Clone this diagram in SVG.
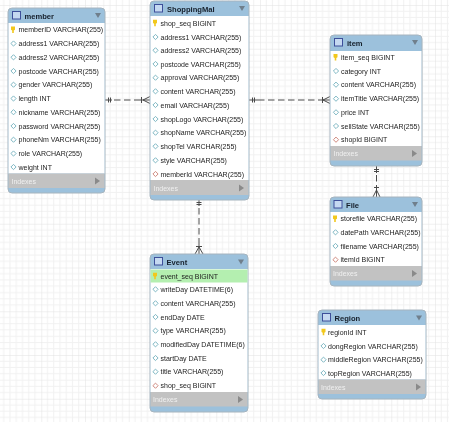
<svg xmlns="http://www.w3.org/2000/svg" width="449" height="422" viewBox="0 0 449 422">
<style>
.t{fill:#9cc1dc;stroke:#a6b4be;stroke-width:1}
.n{font:bold 7.6px "Liberation Sans",sans-serif;fill:#16202c}
.r{font:7px "Liberation Sans",sans-serif;fill:#1c1c1c}
.x{font:7px "Liberation Sans",sans-serif;fill:#f0f0f0}
.g{fill:#c2c2c2}
.a{fill:#6f7f8c}
.b{fill:#8a8a8a}
.ic{fill:#c5d9f1;stroke:#3c4f9a;stroke-width:1}
.c{fill:none;stroke:#4a4a4a;stroke-width:1}
.d{stroke-dasharray:6.500 3.500}
.k{fill:#f2c81e}
.o{fill:#fff;stroke:#7fb8c4;stroke-width:1}
.f{fill:#fff;stroke:#d08a80;stroke-width:1}
</style>
<defs>
<pattern id="gr" x="41.250" y="5" width="43.750" height="43.750" patternUnits="userSpaceOnUse"><path d="M6.250 0V43.750M12.500 0V43.750M18.750 0V43.750M25 0V43.750M31.250 0V43.750M37.500 0V43.750M0 6.250H43.750M0 12.500H43.750M0 18.750H43.750M0 25H43.750M0 31.250H43.750M0 37.500H43.750" fill="none" stroke="#f1f1f1" stroke-width="1"/><path d="M43.750 0H0V43.750" fill="none" stroke="#e2e2e2" stroke-width="1"/></pattern>
<g id="key"><path class="k" d="M-2-3.200h4v3.200l-1.200 .8v2.400h-1.600v-2.400l-1.200-.8z"/></g>
<path id="col" class="o" d="M0-2.600 2.600 0 0 2.600-2.600 0z"/>
<path id="fk" class="f" d="M0-2.600 2.600 0 0 2.600-2.600 0z"/>
<filter id="s" x="-5%" y="-5%" width="110%" height="110%"><feGaussianBlur stdDeviation="0.3"/></filter>
</defs>
<rect width="449" height="422" fill="#fff"/>
<rect width="449" height="422" fill="url(#gr)"/>
<g filter="url(#s)">
<g id="connectors">
<path class="c d" d="M114 100H140"/>
<path class="c" d="M105 100H112M108.500 97.500v5M110.500 97.500v5M140 100H150M141.500 97v6M150 96.500l-7 3.500 7 3.500"/>
<path class="c d" d="M258 100H320"/>
<path class="c" d="M249 100H258M252.500 97.500v5M254.500 97.500v5M320 100H330M322.500 97v6M330 96.500l-7 3.500 7 3.500"/>
<path class="c d" d="M376.500 175V186"/>
<path class="c" d="M376.500 166V173M374 169.500h5M374 171.500h5M376.500 186V197M374 187.500h5M373 197l3.500-7 3.500 7"/>
<path class="c d" d="M199 208V244"/>
<path class="c" d="M199 200V206M196.500 202.500h5M196.500 204.500h5M199 244V254M196 246.500h6M195 254l4-7 4 7"/>
</g>
<g id="member">
<rect class="t" x="8" y="8" width="97" height="185" rx="4"/>
<rect x="8.500" y="23" width="96" height="150.500" fill="#fff"/><rect class="g" x="8.500" y="173.500" width="96" height="14.500"/>
<rect class="ic" x="12.500" y="11.500" width="8" height="7.500"/><text class="n" x="24.500" y="18.500">member</text><path class="a" d="M95 13h6l-3 5z"/>
<use href="#key" x="13" y="29.700"/><text class="r" x="18.500" y="32.200">memberID VARCHAR(255)</text>
<use href="#col" x="13.500" y="43.500"/><text class="r" x="18.500" y="46">address1 VARCHAR(255)</text>
<use href="#col" x="13.500" y="57.300"/><text class="r" x="18.500" y="59.800">address2 VARCHAR(255)</text>
<use href="#col" x="13.500" y="71"/><text class="r" x="18.500" y="73.500">postcode VARCHAR(255)</text>
<use href="#col" x="13.500" y="84.700"/><text class="r" x="18.500" y="87.200">gender VARCHAR(255)</text>
<use href="#col" x="13.500" y="98.500"/><text class="r" x="18.500" y="101">length INT</text>
<use href="#col" x="13.500" y="112.200"/><text class="r" x="18.500" y="114.700">nickname VARCHAR(255)</text>
<use href="#col" x="13.500" y="126"/><text class="r" x="18.500" y="128.500">password VARCHAR(255)</text>
<use href="#col" x="13.500" y="139.700"/><text class="r" x="18.500" y="142.200">phoneNm VARCHAR(255)</text>
<use href="#col" x="13.500" y="153.500"/><text class="r" x="18.500" y="156">role VARCHAR(255)</text>
<use href="#col" x="13.500" y="167"/><text class="r" x="18.500" y="169.500">weight INT</text>
<text class="x" x="11.500" y="183.500">Indexes</text><path class="b" d="M95 177.500l5 3.500-5 3.500z"/>
</g>
<g id="shoppingmal">
<rect class="t" x="150" y="1" width="99" height="199" rx="4"/>
<rect x="150.500" y="16" width="98" height="164" fill="#fff"/><rect class="g" x="150.500" y="180" width="98" height="15"/>
<rect class="ic" x="154.500" y="4.500" width="8" height="7.500"/><text class="n" x="167" y="11.500">ShoppingMal</text><path class="a" d="M239 6h6l-3 5z"/>
<use href="#key" x="155" y="23"/><text class="r" x="160.500" y="25.500">shop_seq BIGINT</text>
<use href="#col" x="155.500" y="37"/><text class="r" x="160.500" y="39.500">address1 VARCHAR(255)</text>
<use href="#col" x="155.500" y="50.300"/><text class="r" x="160.500" y="52.800">address2 VARCHAR(255)</text>
<use href="#col" x="155.500" y="64"/><text class="r" x="160.500" y="66.500">postcode VARCHAR(255)</text>
<use href="#col" x="155.500" y="77.700"/><text class="r" x="160.500" y="80.200">approval VARCHAR(255)</text>
<use href="#col" x="155.500" y="91.300"/><text class="r" x="160.500" y="93.800">content VARCHAR(255)</text>
<use href="#col" x="155.500" y="105"/><text class="r" x="160.500" y="107.500">email VARCHAR(255)</text>
<use href="#col" x="155.500" y="119"/><text class="r" x="160.500" y="121.500">shopLogo VARCHAR(255)</text>
<use href="#col" x="155.500" y="132.700"/><text class="r" x="160.500" y="135.200">shopName VARCHAR(255)</text>
<use href="#col" x="155.500" y="146.300"/><text class="r" x="160.500" y="148.800">shopTel VARCHAR(255)</text>
<use href="#col" x="155.500" y="160.300"/><text class="r" x="160.500" y="162.800">style VARCHAR(255)</text>
<use href="#fk" x="155.500" y="174"/><text class="r" x="160.500" y="176.500">memberId VARCHAR(255)</text>
<text class="x" x="153.500" y="190.500">Indexes</text><path class="b" d="M239 184.500l5 3.500-5 3.500z"/>
</g>
<g id="item">
<rect class="t" x="330" y="35" width="92" height="131" rx="4"/>
<rect x="330.500" y="51" width="91" height="95" fill="#fff"/><rect class="g" x="330.500" y="146" width="91" height="14.500"/>
<rect class="ic" x="334.500" y="38.500" width="8" height="7.500"/><text class="n" x="347" y="46">item</text><path class="a" d="M412 40h6l-3 5z"/>
<use href="#key" x="335.500" y="57.300"/><text class="r" x="341" y="59.800">item_seq BIGINT</text>
<use href="#col" x="336" y="71"/><text class="r" x="341" y="73.500">category INT</text>
<use href="#col" x="336" y="84.700"/><text class="r" x="341" y="87.200">content VARCHAR(255)</text>
<use href="#col" x="336" y="98.700"/><text class="r" x="341" y="101.200">itemTitle VARCHAR(255)</text>
<use href="#col" x="336" y="112.300"/><text class="r" x="341" y="114.800">price INT</text>
<use href="#col" x="336" y="126"/><text class="r" x="341" y="128.500">sellState VARCHAR(255)</text>
<use href="#fk" x="336" y="139.700"/><text class="r" x="341" y="142.200">shopId BIGINT</text>
<text class="x" x="333.500" y="156">Indexes</text><path class="b" d="M412 150l5 3.500-5 3.500z"/>
</g>
<g id="file">
<rect class="t" x="330" y="197" width="92" height="89" rx="4"/>
<rect x="330.500" y="212" width="91" height="54" fill="#fff"/><rect class="g" x="330.500" y="266" width="91" height="14.500"/>
<rect class="ic" x="334" y="200.500" width="8" height="7.500"/><text class="n" x="346" y="207.500">File</text><path class="a" d="M412 202h6l-3 5z"/>
<use href="#key" x="335" y="218.700"/><text class="r" x="340.500" y="221.200">storefile VARCHAR(255)</text>
<use href="#col" x="335.500" y="232.300"/><text class="r" x="340.500" y="234.800">datePath VARCHAR(255)</text>
<use href="#col" x="335.500" y="246"/><text class="r" x="340.500" y="248.500">filename VARCHAR(255)</text>
<use href="#fk" x="335.500" y="259.700"/><text class="r" x="340.500" y="262.200">itemId BIGINT</text>
<text class="x" x="333" y="276">Indexes</text><path class="b" d="M412 270l5 3.500-5 3.500z"/>
</g>
<g id="event">
<rect class="t" x="150" y="254" width="98" height="158" rx="4"/>
<rect x="150.500" y="269" width="97" height="123" fill="#fff"/><rect x="150.500" y="269.500" width="97" height="13" fill="#b4efb0"/><rect class="g" x="150.500" y="392" width="97" height="14.500"/>
<rect class="ic" x="154.500" y="257.500" width="8" height="7.500"/><text class="n" x="166.500" y="264.500">Event</text><path class="a" d="M238 259.500h6l-3 5z"/>
<use href="#key" x="155" y="276"/><text class="r" x="160.500" y="278.500">event_seq BIGINT</text>
<use href="#col" x="155.500" y="289.300"/><text class="r" x="160.500" y="291.800">writeDay DATETIME(6)</text>
<use href="#col" x="155.500" y="303.300"/><text class="r" x="160.500" y="305.800">content VARCHAR(255)</text>
<use href="#col" x="155.500" y="317"/><text class="r" x="160.500" y="319.500">endDay DATE</text>
<use href="#col" x="155.500" y="330.700"/><text class="r" x="160.500" y="333.200">type VARCHAR(255)</text>
<use href="#col" x="155.500" y="344.300"/><text class="r" x="160.500" y="346.800">modifiedDay DATETIME(6)</text>
<use href="#col" x="155.500" y="358"/><text class="r" x="160.500" y="360.500">startDay DATE</text>
<use href="#col" x="155.500" y="371.700"/><text class="r" x="160.500" y="374.200">title VARCHAR(255)</text>
<use href="#fk" x="155.500" y="385.700"/><text class="r" x="160.500" y="388.200">shop_seq BIGINT</text>
<text class="x" x="153" y="402">Indexes</text><path class="b" d="M238 396l5 3.500-5 3.500z"/>
</g>
<g id="region">
<rect class="t" x="318" y="310" width="108" height="89" rx="4"/>
<rect x="318.500" y="325" width="107" height="54.500" fill="#fff"/><rect class="g" x="318.500" y="379.500" width="107" height="14.500"/>
<rect class="ic" x="322.500" y="313.500" width="8" height="7.500"/><text class="n" x="334.500" y="321">Region</text><path class="a" d="M416 315.500h6l-3 5z"/>
<use href="#key" x="323.500" y="332"/><text class="r" x="328" y="334.500">regionId INT</text>
<use href="#col" x="323.500" y="346"/><text class="r" x="328" y="348.500">dongRegion VARCHAR(255)</text>
<use href="#col" x="323.500" y="359.700"/><text class="r" x="328" y="362.200">middleRegion VARCHAR(255)</text>
<use href="#col" x="323.500" y="373"/><text class="r" x="328" y="375.500">topRegion VARCHAR(255)</text>
<text class="x" x="321" y="389.500">Indexes</text><path class="b" d="M416 383.500l5 3.500-5 3.500z"/>
</g>
</g>
</svg>
